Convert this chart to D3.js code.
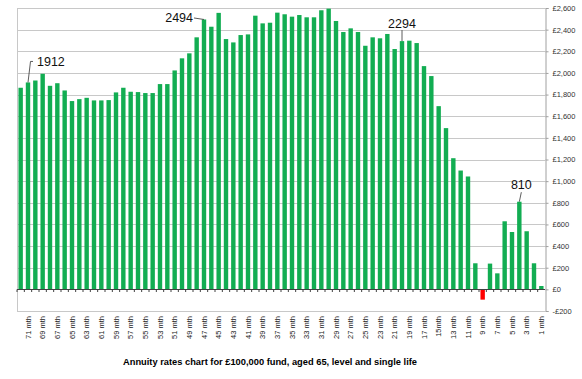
<!DOCTYPE html>
<html>
<head>
<meta charset="utf-8">
<script src="https://cdn.jsdelivr.net/npm/d3@7"></script>
<style>
  body { margin: 0; background: #fff; }
  svg { display: block; }
</style>
</head>
<body>
<div id="chart"></div>
<script>
// months remaining, oldest first
var months = d3.range(72, 0, -1);
var monthLabels = months.map(function(m) { return m == 15 ? "15mth" : m + " mth"; });

// annuity rate change per month (£)
var values = [1863, 1912, 1930, 1992, 1881, 1905, 1838, 1740, 1758, 1770, 1746, 1746,
              1749, 1820, 1863, 1826, 1823, 1814, 1814, 1897, 1897, 2023, 2135, 2181,
              2329, 2494, 2427, 2555, 2313, 2282, 2350, 2356, 2529, 2458, 2464, 2557,
              2542, 2520, 2535, 2514, 2514, 2579, 2594, 2480, 2378, 2412, 2378, 2251,
              2329, 2320, 2360, 2221, 2294, 2298, 2276, 2063, 1971, 1693, 1490, 1212,
              1098, 1043, 241, -95, 238, 148, 629, 530, 810, 537, 241, 31];

var yTicks = d3.range(-200, 2601, 200);

// labelled bars
var calloutMonths = [71, 47, 20, 4];

var title = "Annuity rates chart for £100,000 fund, aged 65, level and single life";

var width = 582, height = 379;
var plot = {left: 17, right: 545, top: 8, bottom: 311};

var svg = d3.select("#chart").append("svg")
  .attr("width", width)
  .attr("height", height);

var x = d3.scaleBand()
  .domain(months)
  .range([plot.left, plot.right])
  .paddingInner(0.4)
  .paddingOuter(0.2);

var y = d3.scaleLinear()
  .domain([-200, 2600])
  .range([plot.bottom, plot.top]);

// gridlines
svg.append("g")
  .selectAll("line")
  .data(yTicks)
  .join("line")
  .attr("x1", plot.left)
  .attr("x2", plot.right)
  .attr("y1", function(d) { return Math.round(y(d)) + 0.5; })
  .attr("y2", function(d) { return Math.round(y(d)) + 0.5; })
  .style("stroke", "#c8c8c8")
  .style("stroke-width", 1);

// left border
svg.append("line")
  .attr("x1", plot.left + 0.5).attr("x2", plot.left + 0.5)
  .attr("y1", y(2600)).attr("y2", y(-200))
  .style("stroke", "#c8c8c8");

// bars
svg.append("g")
  .selectAll("rect")
  .data(values)
  .join("rect")
  .attr("x", function(d, i) { return x(months[i]); })
  .attr("width", x.bandwidth())
  .attr("y", function(d) { return y(Math.max(0, d)); })
  .attr("height", function(d) { return Math.abs(y(d) - y(0)); })
  .style("fill", function(d) { return d < 0 ? "#ff0000" : "#12ad52"; });

// zero axis with category ticks
var zeroY = Math.round(y(0)) + 0.5;
svg.append("line")
  .attr("x1", plot.left).attr("x2", plot.right)
  .attr("y1", zeroY).attr("y2", zeroY)
  .style("stroke", "#404040")
  .style("stroke-width", 1.2);

var step = x.step();
svg.append("g")
  .selectAll("line")
  .data(months)
  .join("line")
  .attr("x1", function(d) { return x(d) - step * 0.2; })
  .attr("x2", function(d) { return x(d) - step * 0.2; })
  .attr("y1", zeroY)
  .attr("y2", zeroY + 2.5)
  .style("stroke", "#404040");

// category labels, every other month
svg.append("g")
  .selectAll("text")
  .data(months.filter(function(m) { return m % 2 == 1; }))
  .join("text")
  .attr("transform", function(d) {
    return "translate(" + (x(d) + x.bandwidth() / 2 + 2.5) + "," + 316 + ") rotate(-90)";
  })
  .attr("text-anchor", "end")
  .style("font-family", "Liberation Sans, Arial, sans-serif")
  .style("font-size", "7.5px")
  .style("fill", "#222")
  .text(function(d) { return monthLabels[months.indexOf(d)]; });

// right axis
var yAxis = d3.axisRight(y)
  .tickValues(yTicks)
  .tickSize(3)
  .tickPadding(4)
  .tickFormat(function(d) { return (d < 0 ? "-£" : "£") + d3.format(",")(Math.abs(d)); });

var axisG = svg.append("g")
  .attr("transform", "translate(" + (plot.right + 0.5) + ",0)")
  .call(yAxis);
axisG.select(".domain").style("stroke", "#a0a0a0");
axisG.selectAll(".tick line").style("stroke", "#a0a0a0");
axisG.selectAll("text")
  .style("font-family", "Liberation Sans, Arial, sans-serif")
  .style("font-size", "7.5px")
  .style("fill", "#333");

// callouts
var calloutLayout = {
  71: {tx: 9, ty: -16, anchor: "start", path: function(bx, by) { return "M" + (bx + 5) + "," + (by - 21) + "H" + (bx + 2.5) + "L" + bx + "," + by; }},
  47: {tx: -11, ty: 3, anchor: "end", path: function(bx, by) { return "M" + (bx - 10) + "," + (by - 1.5) + "L" + bx + "," + by; }},
  20: {tx: 0, ty: -13.5, anchor: "middle", path: function(bx, by) { return "M" + bx + "," + (by - 11) + "L" + bx + "," + by; }},
  4: {tx: 2, ty: -12.5, anchor: "middle", path: function(bx, by) { return "M" + (bx + 2) + "," + (by - 9.5) + "L" + bx + "," + by; }}
};

calloutMonths.forEach(function(m) {
  var v = values[months.indexOf(m)];
  var bx = x(m) + x.bandwidth() / 2;
  var by = y(v);
  var c = calloutLayout[m];
  svg.append("path")
    .attr("d", c.path(bx, by))
    .style("fill", "none")
    .style("stroke", "#333")
    .style("stroke-width", 0.8);
  svg.append("text")
    .attr("x", bx + c.tx)
    .attr("y", by + c.ty)
    .attr("text-anchor", c.anchor)
    .style("font-family", "Liberation Sans, Arial, sans-serif")
    .style("font-size", "12.5px")
    .style("fill", "#111")
    .text(v);
});

// title
svg.append("text")
  .attr("x", 270)
  .attr("y", 365)
  .attr("text-anchor", "middle")
  .style("font-family", "Liberation Sans, Arial, sans-serif")
  .style("font-size", "9.3px")
  .style("font-weight", "bold")
  .style("fill", "#000")
  .text(title);
</script>
</body>
</html>
